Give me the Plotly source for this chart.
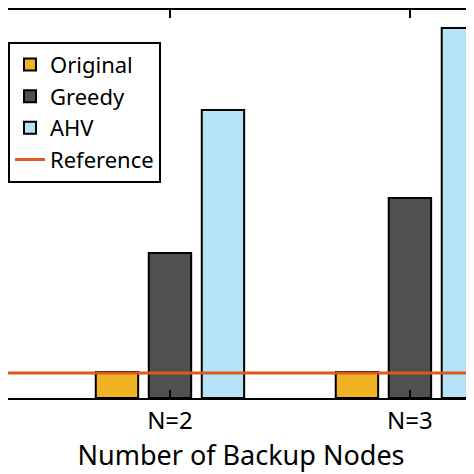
import plotly.graph_objects as go

# --- data (arbitrary units) ---
positions = [1, 2, 3]
tick_labels = ["N=1", "N=2", "N=3"]
original = [26, 26, 26]
greedy = [110, 145, 200]
ahv = [235, 288, 370]
reference = 25

fig = go.Figure()
fig.add_bar(x=positions, y=original, name="Original", marker=dict(color="#f0b323", line=dict(color="black", width=2)))
fig.add_bar(x=positions, y=greedy, name="Greedy", marker=dict(color="#505050", line=dict(color="black", width=2)))
fig.add_bar(x=positions, y=ahv, name="AHV", marker=dict(color="#b5e4f6", line=dict(color="black", width=2)))
fig.add_scatter(x=[0.5, 3.5], y=[reference, reference], mode="lines", name="Reference",
                line=dict(color="#dc5a20", width=3))

# page body has an 8px margin, so the figure is offset; compensate in margins
fig.update_layout(
    width=474, height=474,
    barmode="group", bargap=0.3375, bargroupgap=0.2,
    plot_bgcolor="white", paper_bgcolor="white",
    margin=dict(l=0, r=8, t=2, b=84),
    font=dict(family="Noto Sans", size=22, color="black"),
    legend=dict(x=0.0, y=0.918, xanchor="left", yanchor="top",
                bordercolor="black", borderwidth=2, bgcolor="white",
                font=dict(size=22), tracegroupgap=0),
    xaxis=dict(range=[1.325, 3.267], tickvals=positions, ticktext=tick_labels,
               ticks="inside", ticklen=8, tickwidth=2, tickcolor="black",
               tickfont=dict(size=24),
               showline=True, linecolor="black", linewidth=2, mirror="ticks",
               showgrid=False, zeroline=False,
               title=dict(text="Number of Backup Nodes", font=dict(size=27), standoff=0)),
    yaxis=dict(range=[0, 388], showticklabels=False, showgrid=False, zeroline=False,
               showline=True, linecolor="black", linewidth=2, mirror=True),
)

fig.write_html("out.html")
